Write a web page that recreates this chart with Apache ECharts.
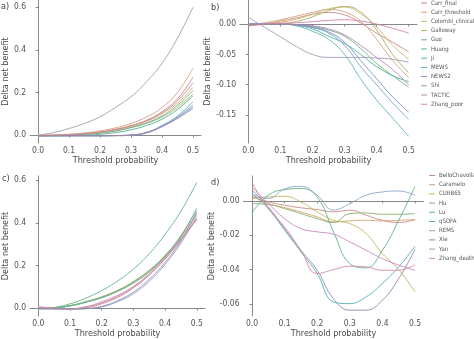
<!DOCTYPE html>
<html><head><meta charset="utf-8">
<script src="https://cdn.jsdelivr.net/npm/echarts@6/dist/echarts.min.js"></script>
<style>html,body{margin:0;padding:0;background:#fff}#c{width:474px;height:339px}</style>
</head><body><div id="c"></div>
<script>
// ---- data ----
const thresholds = [0, 0.05, 0.1, 0.15, 0.2, 0.25, 0.3, 0.35, 0.4, 0.45, 0.5];
const xTicks = [0, 0.1, 0.2, 0.3, 0.4, 0.5];
const aYTicks = [0, 0.2, 0.4, 0.6];
const bYTicks = [-0.15, -0.1, -0.05, 0];
const cYTicks = [0, 0.2, 0.4, 0.6];
const dYTicks = [-0.06, -0.04, -0.02, 0];

const modelsPoor = ["Carr_final","Carr_threshold","Colombi_clinical","Galloway","Guo","Huang","Ji","MEWS","NEWS2","Shi","TACTIC","Zhang_poor"];
const modelsDeath = ["BelloChavolla","Caramelo","CURB65","Hu","Lu","qSOFA","REMS","Xie","Yan","Zhang_death"];

// panel a
const a_Carr_final       = [-0.002, 0.000, 0.003, 0.008, 0.016, 0.028, 0.045, 0.070, 0.110, 0.170, 0.271];
const a_Carr_threshold   = [0.000, 0.001, 0.004, 0.010, 0.020, 0.034, 0.055, 0.085, 0.130, 0.200, 0.314];
const a_Colombi_clinical = [-0.002, 0.000, 0.002, 0.007, 0.015, 0.026, 0.042, 0.065, 0.100, 0.150, 0.224];
const a_Galloway         = [-0.003, -0.002, 0.000, 0.004, 0.010, 0.020, 0.035, 0.055, 0.085, 0.130, 0.193];
const a_Guo              = [-0.003, -0.002, 0.001, 0.004, 0.010, 0.020, 0.036, 0.058, 0.090, 0.140, 0.209];
const a_Huang            = [-0.003, -0.003, -0.002, 0.000, 0.004, 0.012, 0.025, 0.045, 0.075, 0.120, 0.184];
const a_Ji               = [-0.003, -0.003, -0.003, -0.003, -0.003, -0.002, 0.001, 0.013, 0.045, 0.090, 0.157];
const a_MEWS             = [-0.003, -0.003, -0.003, -0.003, -0.003, -0.002, 0.000, 0.012, 0.043, 0.085, 0.141];
const a_NEWS2            = [-0.003, -0.003, -0.003, -0.003, -0.003, -0.003, -0.001, 0.010, 0.040, 0.080, 0.133];
const a_Shi              = [0.000, 0.012, 0.031, 0.055, 0.086, 0.130, 0.180, 0.250, 0.337, 0.455, 0.600];
const a_TACTIC           = [-0.003, -0.003, -0.003, -0.003, -0.003, -0.002, 0.000, 0.012, 0.040, 0.078, 0.125];
const a_Zhang_poor       = [-0.003, -0.001, 0.002, 0.007, 0.014, 0.025, 0.042, 0.067, 0.105, 0.160, 0.246];
const panelA = [a_Carr_final, a_Carr_threshold, a_Colombi_clinical, a_Galloway, a_Guo, a_Huang, a_Ji, a_MEWS, a_NEWS2, a_Shi, a_TACTIC, a_Zhang_poor];

// panel b
const b_Carr_final       = [-0.003, 0.000, 0.005, 0.010, 0.016, 0.019, 0.015, 0.002, -0.015, -0.030, -0.046];
const b_Carr_threshold   = [-0.002, 0.002, 0.007, 0.013, 0.019, 0.024, 0.020, 0.005, -0.025, -0.060, -0.088];
const b_Colombi_clinical = [-0.002, 0.001, 0.003, 0.008, 0.016, 0.025, 0.028, 0.017, -0.005, -0.035, -0.058];
const b_Galloway         = [-0.001, 0.000, 0.001, 0.004, 0.012, 0.022, 0.029, 0.020, -0.010, -0.050, -0.080];
const b_Guo              = [0.000, 0.000, 0.000, -0.001, -0.004, -0.010, -0.020, -0.040, -0.065, -0.085, -0.104];
const b_Huang            = [0.000, 0.000, 0.000, -0.002, -0.008, -0.020, -0.032, -0.050, -0.070, -0.085, -0.095];
const b_Ji               = [0.000, 0.000, 0.000, -0.003, -0.012, -0.025, -0.050, -0.090, -0.125, -0.155, -0.185];
const b_MEWS             = [0.000, 0.000, 0.000, -0.002, -0.006, -0.015, -0.035, -0.070, -0.100, -0.130, -0.157];
const b_NEWS2            = [0.000, 0.000, 0.000, -0.001, -0.005, -0.013, -0.030, -0.060, -0.090, -0.120, -0.145];
const b_Shi              = [0.011, -0.005, -0.021, -0.037, -0.050, -0.055, -0.055, -0.055, -0.056, -0.058, -0.063];
const b_TACTIC           = [0.000, 0.000, 0.000, -0.001, -0.003, -0.008, -0.018, -0.035, -0.055, -0.075, -0.100];
const b_Zhang_poor       = [-0.003, 0.000, 0.001, 0.002, 0.004, 0.006, 0.007, 0.005, 0.000, -0.007, -0.015];
const panelB = [b_Carr_final, b_Carr_threshold, b_Colombi_clinical, b_Galloway, b_Guo, b_Huang, b_Ji, b_MEWS, b_NEWS2, b_Shi, b_TACTIC, b_Zhang_poor];

// panel c
const c_BelloChavolla = [0.005, 0.000, -0.003, 0.002, 0.020, 0.050, 0.095, 0.155, 0.230, 0.320, 0.420];
const c_Caramelo      = [0.000, 0.002, 0.012, 0.030, 0.052, 0.082, 0.122, 0.175, 0.245, 0.335, 0.445];
const c_CURB65        = [0.000, 0.001, 0.010, 0.028, 0.050, 0.080, 0.120, 0.172, 0.240, 0.330, 0.440];
const c_Hu            = [-0.002, 0.002, 0.012, 0.030, 0.053, 0.083, 0.125, 0.178, 0.248, 0.340, 0.460];
const c_Lu            = [-0.003, 0.003, 0.020, 0.047, 0.082, 0.127, 0.183, 0.255, 0.346, 0.455, 0.590];
const c_qSOFA         = [-0.002, 0.001, 0.010, 0.027, 0.048, 0.078, 0.117, 0.170, 0.243, 0.338, 0.470];
const c_REMS          = [-0.003, -0.004, -0.005, -0.003, 0.005, 0.030, 0.067, 0.125, 0.205, 0.305, 0.430];
const c_Xie           = [-0.003, -0.004, -0.004, -0.002, 0.008, 0.035, 0.075, 0.135, 0.215, 0.315, 0.450];
const c_Yan           = [0.003, -0.002, -0.003, 0.005, 0.025, 0.055, 0.100, 0.160, 0.235, 0.325, 0.419];
const c_Zhang_death   = [0.006, 0.000, -0.002, 0.006, 0.030, 0.060, 0.102, 0.160, 0.235, 0.320, 0.415];
const panelC = [c_BelloChavolla, c_Caramelo, c_CURB65, c_Hu, c_Lu, c_qSOFA, c_REMS, c_Xie, c_Yan, c_Zhang_death];

// panel d
const d_BelloChavolla = [0.0023, -0.0005, -0.0025, -0.0040, -0.0050, -0.0064, -0.0054, -0.0083, -0.0113, -0.0126, -0.0109];
const d_Caramelo      = [0.0033, -0.0016, -0.0039, -0.0064, -0.0093, -0.0122, -0.0116, -0.0113, -0.0116, -0.0113, -0.0109];
const d_CURB65        = [0.0014, 0.0023, 0.0027, -0.0006, -0.0064, -0.0113, -0.0132, -0.0190, -0.0307, -0.0400, -0.0530];
const d_Hu            = [-0.0016, -0.0020, -0.0045, -0.0074, -0.0103, -0.0126, -0.0074, -0.0070, -0.0078, -0.0078, -0.0074];
const d_Lu            = [-0.0068, 0.0033, 0.0066, 0.0072, 0.0023, -0.0180, -0.0365, -0.0390, -0.0287, -0.0113, 0.0085];
const d_qSOFA         = [0.0043, -0.0045, -0.0171, -0.0297, -0.0423, -0.0588, -0.0598, -0.0559, -0.0481, -0.0384, -0.0264];
const d_REMS          = [0.0040, 0.0014, 0.0070, 0.0085, 0.0033, -0.0054, -0.0016, 0.0033, 0.0052, 0.0058, 0.0033];
const d_Xie           = [0.0062, -0.0035, -0.0161, -0.0287, -0.0404, -0.0570, -0.0636, -0.0636, -0.0578, -0.0452, -0.0283];
const d_Yan           = [0.0081, -0.0016, -0.0103, -0.0161, -0.0180, -0.0194, -0.0239, -0.0287, -0.0336, -0.0374, -0.0404];
const d_Zhang_death   = [0.0107, -0.0045, -0.0151, -0.0287, -0.0423, -0.0400, -0.0380, -0.0384, -0.0404, -0.0404, -0.0370];
const panelD = [d_BelloChavolla, d_Caramelo, d_CURB65, d_Hu, d_Lu, d_qSOFA, d_REMS, d_Xie, d_Yan, d_Zhang_death];

const colorsPoor = ["#c98a84","#d9a07e","#c9b86a","#a5ae68","#6db27c","#4fae98","#5ab3bb","#6fa4c8","#7f90c4","#a39cb4","#b886b8","#d582a8"];
const colorsDeath = ["#c98a84","#d6a070","#c2b560","#8aae6a","#5fb38a","#55b3b0","#8fa6cc","#8d86b5","#c689c0","#d98aa0"];

// ---- chart ----
const FONT = "'DejaVu Sans Condensed','Liberation Sans Narrow','Roboto Condensed',Roboto,sans-serif";
const grids = [
  {left: 25, top: 0, width: 176, height: 143},
  {left: 240, top: 0, width: 177, height: 143},
  {left: 25, top: 176, width: 180, height: 141},
  {left: 243.5, top: 176, width: 180, height: 141}
];
const yRanges = [[-0.037, 0.634], [-0.196, 0.0396], [-0.037, 0.62], [-0.067, 0.0145]];
const yTickSets = [aYTicks, bYTicks, cYTicks, dYTicks];
const yDigits = [1, 2, 1, 2];
const yNameGaps = [16, 21, 16, 22];

const axisCommon = {
  axisLine: {lineStyle: {color: '#8a8a8a', width: 1}},
  axisTick: {show: true, length: 2.5, lineStyle: {color: '#8a8a8a'}},
  splitLine: {show: false},
  nameTextStyle: {fontFamily: FONT, fontSize: 9, color: '#4a4a4a'}
};

const xAxes = grids.map((g, i) => Object.assign({}, axisCommon, {
  type: 'value', gridIndex: i, min: -0.026, max: 0.526,
  name: 'Threshold probability', nameLocation: 'middle', nameGap: 13,
  axisTick: Object.assign({}, axisCommon.axisTick, {customValues: xTicks}),
  axisLabel: {customValues: xTicks, formatter: v => v.toFixed(1), fontFamily: FONT, fontSize: 8.5, color: '#555', margin: 3}
}));
const yAxes = grids.map((g, i) => Object.assign({}, axisCommon, {
  type: 'value', gridIndex: i, min: yRanges[i][0], max: yRanges[i][1],
  name: 'Delta net benefit', nameLocation: 'middle', nameRotate: 90, nameGap: yNameGaps[i],
  axisTick: Object.assign({}, axisCommon.axisTick, {customValues: yTickSets[i]}),
  axisLabel: {customValues: yTickSets[i], formatter: v => v.toFixed(yDigits[i]), fontFamily: FONT, fontSize: 8.5, color: '#555', margin: 4}
}));

function mk(arr) { return thresholds.map((t, i) => [t, arr[i]]); }
const series = [];
const zeroLine = {silent: true, symbol: 'none', label: {show: false},
  lineStyle: {color: '#888', type: [1.5, 1.5], width: 0.8}, data: [{yAxis: 0}]};
function addPanel(panel, names, colors, idx) {
  panel.forEach((arr, k) => {
    const s = {
      type: 'line', name: names[k], xAxisIndex: idx, yAxisIndex: idx,
      data: mk(arr), smooth: 0.45, showSymbol: false, symbol: 'none',
      lineStyle: {width: 0.9, color: colors[k]}, itemStyle: {color: colors[k]},
      emphasis: {disabled: true}, z: 3
    };
    if (k === 0) s.markLine = zeroLine;
    series.push(s);
  });
}
addPanel(panelA, modelsPoor, colorsPoor, 0);
addPanel(panelB, modelsPoor, colorsPoor, 1);
addPanel(panelC, modelsDeath, colorsDeath, 2);
addPanel(panelD, modelsDeath, colorsDeath, 3);

const legendCommon = {
  orient: 'vertical', icon: 'rect', itemWidth: 6, itemHeight: 1, itemGap: 0.2,
  textStyle: {fontFamily: FONT, fontSize: 6, color: '#555', lineHeight: 9, padding: [0, 0, 0, -1]},
  selectedMode: false, padding: 0
};
const chart = echarts.init(document.getElementById('c'), null, {renderer: 'canvas'});
chart.setOption({
  animation: false,
  backgroundColor: '#fff',
  grid: grids,
  xAxis: xAxes,
  yAxis: yAxes,
  legend: [
    Object.assign({}, legendCommon, {data: modelsPoor, left: 421, top: -1.5}),
    Object.assign({}, legendCommon, {data: modelsDeath, left: 429, top: 171})
  ],
  graphic: [
    {type: 'text', left: 1, top: 2, style: {text: 'a)', font: '9px ' + FONT, fill: '#444'}},
    {type: 'text', left: 211, top: 3, style: {text: 'b)', font: '9px ' + FONT, fill: '#444'}},
    {type: 'text', left: 2, top: 174, style: {text: 'c)', font: '9px ' + FONT, fill: '#444'}},
    {type: 'text', left: 211, top: 178, style: {text: 'd)', font: '9px ' + FONT, fill: '#444'}}
  ],
  series: series
});
</script></body></html>
